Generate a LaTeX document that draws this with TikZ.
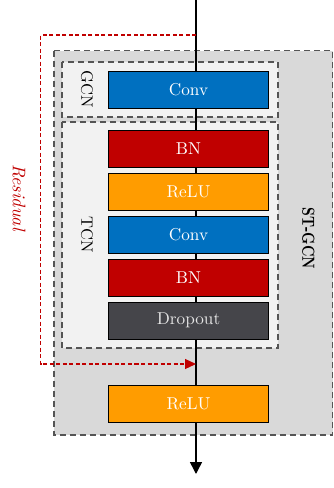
\documentclass[tikz,border=0pt]{standalone}
\usepackage{fontspec}
\usepackage{graphicx}
\usetikzlibrary{arrows.meta}
\definecolor{cblue}{HTML}{0070C0}
\definecolor{cred}{HTML}{C00000}
\definecolor{corange}{HTML}{FF9C00}
\definecolor{cdark}{HTML}{45454A}
\definecolor{outerfill}{HTML}{D9D9D9}
\definecolor{innerfill}{HTML}{F2F2F2}
\definecolor{dashgray}{HTML}{555555}
\newcommand{\layertxt}[1]{\scalebox{1.72}{#1}}
\newcommand{\sidetxt}[1]{\scalebox{1.65}{#1}}
\begin{document}
\begin{tikzpicture}[x=1pt,y=-1pt,
  layer/.style={draw=black, line width=1pt, minimum width=160pt, minimum height=37pt, inner sep=0pt, text=white, font=\normalsize},
  container/.style={draw=dashgray, dash pattern=on 6pt off 4pt, line width=1.4pt},
  mainline/.style={line width=1.5pt, black},
  reslink/.style={draw=cred, line width=1.2pt, dash pattern=on 4pt off 2.5pt},
  sidelabel/.style={rotate=-90, inner sep=0pt}
]
\useasboundingbox (0,0) rectangle (334,488);
% containers
\draw[container, fill=outerfill] (54,50.5) rectangle (332.5,435);
\draw[container, fill=innerfill] (62,62) rectangle (278,117);
\draw[container, fill=innerfill] (62,122) rectangle (278,348);
% coordinates
\coordinate (top) at (196,0);
\coordinate (split) at (196,35);
\coordinate (merge) at (196,364);
\coordinate (bottom) at (196,474);
% layers
\node[layer, fill=cblue] (conv1) at (188.5,90) {\layertxt{Conv}};
\node[layer, fill=cred] (bn1) at (188.5,149) {\layertxt{BN}};
\node[layer, fill=corange] (relu1) at (188.5,191.5) {\layertxt{ReLU}};
\node[layer, fill=cblue] (conv2) at (188.5,234.5) {\layertxt{Conv}};
\node[layer, fill=cred] (bn2) at (188.5,277.5) {\layertxt{BN}};
\node[layer, fill=cdark, text=white!90!black] (drop) at (188.5,320.5) {\layertxt{Dropout}};
\node[layer, fill=corange] (relu2) at (188.5,403.5) {\layertxt{ReLU}};
% labels
\node[sidelabel] (gcnlabel) at (87,89.5) {\sidetxt{GCN}};
\node[sidelabel] (tcnlabel) at (87,235) {\sidetxt{TCN}};
\node[sidelabel] (stlabel) at (308.5,238.5) {\scalebox{1.38}[1.75]{\bfseries ST-GCN}};
\node[sidelabel, text=cred] (reslabel) at (19,197.5) {\scalebox{1.82}{\itshape Residual}};
% main flow
\draw[mainline] (top) -- (conv1.north -| top);
\draw[mainline] (conv1.south -| top) -- (bn1.north -| top);
\draw[mainline] (bn1.south -| top) -- (relu1.north -| top);
\draw[mainline] (relu1.south -| top) -- (conv2.north -| top);
\draw[mainline] (conv2.south -| top) -- (bn2.north -| top);
\draw[mainline] (bn2.south -| top) -- (drop.north -| top);
\draw[mainline] (drop.south -| top) -- (relu2.north -| top);
\draw[mainline, -{Triangle[width=12pt,length=12pt]}] (relu2.south -| top) -- (bottom);
% residual
\draw[reslink, -{Triangle[width=10pt,length=11pt]}] (split) -- (40.5,35) -- (40.5,364) -- (merge);
\end{tikzpicture}
\end{document}
